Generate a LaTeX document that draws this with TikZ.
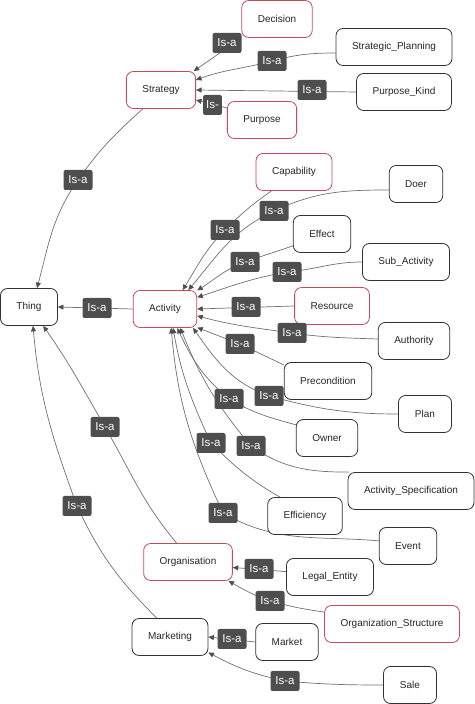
\documentclass[tikz,border=0pt]{standalone}
\usepackage{fontspec}
\setmainfont{Liberation Sans}
\usetikzlibrary{arrows.meta,backgrounds}
\definecolor{boxred}{RGB}{200,72,92}
\definecolor{boxgray}{RGB}{50,50,50}
\definecolor{isagray}{RGB}{78,78,78}
\definecolor{edgegray}{RGB}{112,112,112}

\begin{document}
\begin{tikzpicture}[x=1pt,y=1pt,
	class/.style={draw=boxgray,fill=white,line width=0.8pt,rounded corners=7pt,minimum height=37pt,minimum width=53pt,inner xsep=16pt,text=black!85,font=\fontsize{10}{12}\selectfont},
	redclass/.style={class,draw=boxred},
	isa/.style={fill=isagray,text=white,rounded corners=2pt,minimum width=29pt,minimum height=20pt,inner sep=2pt,font=\fontsize{11.5}{13}\selectfont},
	edge/.style={draw=edgegray,line width=0.7pt,-{Triangle[length=5.5pt,width=5pt,color=isagray]}}]
			          %\draw[help lines] (0,0) grid[step=50] (474,704);
			          \useasboundingbox (0,0) rectangle (474,704);
			          % classes
			          \node[redclass] (Decision) at (277,685) {Decision};
			          \node[class] (StrategicPlanning) at (394,657) {Strategic\_Planning};
			          \node[redclass] (Strategy) at (161,614) {Strategy};
			          \node[class] (PurposeKind) at (404,612) {Purpose\_Kind};
			          \node[redclass] (Purpose) at (262,584) {Purpose};
			          \node[redclass] (Capability) at (294,532) {Capability};
			          \node[class] (Doer) at (416,520) {Doer};
			          \node[class] (Effect) at (322,470) {Effect};
			          \node[class] (SubActivity) at (406,442) {Sub\_Activity};
			          \node[redclass] (Resource) at (332,398) {Resource};
			          \node[class] (Authority) at (414,363) {Authority};
			          \node[class] (Thing) at (29,397) {Thing};
			          \node[redclass] (Activity) at (165,395) {Activity};
			          \node[class] (Precondition) at (328,323) {Precondition};
			          \node[class] (Plan) at (425,290) {Plan};
			          \node[class] (Owner) at (327,266) {Owner};
			          \node[class] (ActivitySpecification) at (411,213) {Activity\_Specification};
			          \node[class] (Efficiency) at (305,188) {Efficiency};
			          \node[class] (Event) at (408,158) {Event};
			          \node[redclass] (Organisation) at (188,142) {Organisation};
			          \node[class] (LegalEntity) at (330,127) {Legal\_Entity};
			          \node[redclass] (OrganizationStructure) at (392,80) {Organization\_Structure};
			          \node[class] (Marketing) at (170,67) {Marketing};
			          \node[class] (Market) at (287,62) {Market};
			          \node[class] (Sale) at (410,19) {Sale};
			          % is-a labels
			          \node[isa] (lDecision) at (227,661) {Is-a};
			          \node[isa] (lStrategicPlanning) at (272,643) {Is-a};
			          \node[isa] (lPurposeKind) at (312,614) {Is-a};
			          \node[isa,minimum width=17pt,inner xsep=3pt] (lPurpose) at (212.5,599) {Is-};
			          \node[isa] (lStrategy) at (78,524) {Is-a};
			          \node[isa] (lCapability) at (225,474) {Is-a};
			          \node[isa] (lDoer) at (274,493) {Is-a};
			          \node[isa] (lEffect) at (245,442) {Is-a};
			          \node[isa] (lSubActivity) at (287,432) {Is-a};
			          \node[isa] (lResource) at (246,397) {Is-a};
			          \node[isa] (lAuthority) at (292,371) {Is-a};
			          \node[isa] (lPrecondition) at (240,360) {Is-a};
			          \node[isa] (lActivity) at (97,396) {Is-a};
			          \node[isa] (lPlan) at (269,308) {Is-a};
			          \node[isa] (lOwner) at (229,305) {Is-a};
			          \node[isa] (lActivitySpecification) at (251,258) {Is-a};
			          \node[isa] (lEfficiency) at (211,261) {Is-a};
			          \node[isa] (lOrganisation) at (105,277) {Is-a};
			          \node[isa] (lMarketing) at (77,198) {Is-a};
			          \node[isa] (lEvent) at (223,191) {Is-a};
			          \node[isa] (lLegalEntity) at (259,135) {Is-a};
			          \node[isa] (lOrganizationStructure) at (270,103) {Is-a};
			          \node[isa] (lMarket) at (232,65) {Is-a};
			          \node[isa] (lSale) at (285,23) {Is-a};
			          % links, behind everything
			          \begin{scope}[on background layer]
			          \draw[edge] (Decision.south west) -- (Strategy.30);
			          \draw[edge] ([yshift=-6pt]StrategicPlanning.west) to[out=180,in=15] (lStrategicPlanning.center) to[out=195,in=20] (Strategy.16);
			          \draw[edge] (PurposeKind.west) -- (Strategy.east);
			          \draw[edge] (Purpose.161) -- (Strategy.-16);
			          \draw[edge] (Strategy.226) to[out=222,in=55] (lStrategy.center) to[out=235,in=75] (Thing.67);
			          \draw[edge] (Activity.west) -- (Thing.east);
			          \draw[edge] (Capability.220) to[out=215,in=45] (lCapability.center) to[out=225,in=58] (Activity.47);
			          \draw[edge] ([yshift=-6pt]Doer.west) to[out=180,in=25] (lDoer.center) to[out=205,in=50] (Activity.39);
			          \draw[edge] (Effect.202) to[out=200,in=20] (lEffect.center) to[out=200,in=32] (Activity.30);
			          \draw[edge] (SubActivity.west) to[out=180,in=5] (lSubActivity.center) to[out=190,in=18] (Activity.20);
			          \draw[edge] (Resource.west) -- (Activity.east);
			          \draw[edge] ([yshift=2pt]Authority.west) to[out=178,in=-8] (lAuthority.center) to[out=172,in=-15] (Activity.-12);
			          \draw[edge] (Precondition.160) -- (lPrecondition.center) -- (Activity.-30);
			          \draw[edge] (Plan.west) to[out=180,in=-15] (lPlan.center) to[out=160,in=-55] (Activity.-34);
			          \draw[edge] (Owner.157) to[out=165,in=-30] (lOwner.center) to[out=140,in=-65] (Activity.-57);
			          \draw[edge] (ActivitySpecification.163) to[out=180,in=-35] (lActivitySpecification.center) to[out=130,in=-68] (Activity.-51);
			          \draw[edge] (Efficiency.143) to[out=150,in=-45] (lEfficiency.center) to[out=115,in=-80] (Activity.-67);
			          \draw[edge] (Event.170) to[out=175,in=-30] (lEvent.center) to[out=115,in=-85] (Activity.-72);
			          \draw[edge] (Organisation.121) to[out=130,in=-60] (lOrganisation.center) to[out=120,in=-55] (Thing.-53);
			          \draw[edge] (Marketing.125) to[out=135,in=-65] (lMarketing.center) to[out=110,in=-85] (Thing.-78);
			          \draw[edge] (LegalEntity.173) -- (Organisation.-7);
			          \draw[edge] (OrganizationStructure.170) to[out=172,in=-15] (lOrganizationStructure.center) to[out=160,in=-30] (Organisation.-25);
			          \draw[edge] (Market.west) -- (Marketing.east);
			          \draw[edge] (Sale.west) to[out=180,in=-5] (lSale.center) to[out=168,in=-28] (Marketing.-22);
			          \end{scope}
\end{tikzpicture}
\end{document}
